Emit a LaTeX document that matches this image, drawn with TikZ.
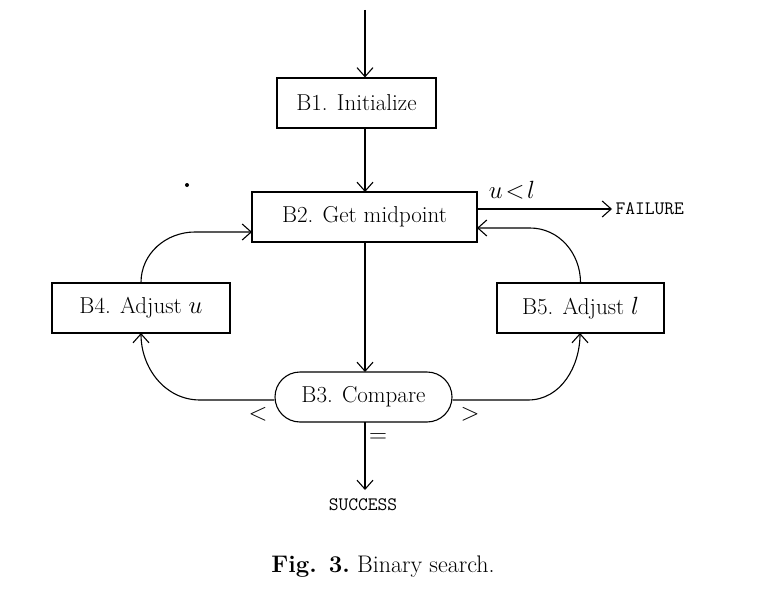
\documentclass[tikz,border=0pt]{standalone}
\usetikzlibrary{arrows.meta}
\begin{document}
\begin{tikzpicture}[x=1pt,y=-1pt,
  box/.style={draw,line width=1.1pt,minimum height=50pt,inner sep=0pt,font=\fontsize{23}{27}\selectfont},
  lbl/.style={font=\fontsize{23}{27}\selectfont},
  conn/.style={line width=1.1pt,-{Straight Barb[length=9pt,width=16pt]}},
  tt/.style={font=\fontsize{19}{22}\selectfont\ttfamily}]
\useasboundingbox (0,0) rectangle (766,610);
\coordinate (top) at (365,10);
\node[box,minimum width=159pt] (b1) at (356.5,103) {B1. Initialize};
\node[box,minimum width=225pt] (b2) at (364.5,217) {B2. Get midpoint};
\node[box,minimum width=178pt] (b4) at (141,308) {B4. Adjust $u$};
\node[box,minimum width=167pt] (b5) at (580.5,308) {B5. Adjust $l$};
\node[box,rounded corners=25pt,minimum width=177pt] (b3) at (363.5,397) {B3. Compare};
\node[tt,anchor=west] (fail) at (612,209) {FAILURE};
\node[tt] (succ) at (363,505) {SUCCESS};
\coordinate (sa) at (365,490);
\fill (187,185) circle (2pt);
\draw[conn] (top) -- (top|-b1.north);
\draw[conn] (365,128) -- (365,192);
\draw[conn] (365,242) -- (365,372);
\draw[conn] (477,209) -- (fail.west);
\node[lbl] (ul) at (512,190) {$u\!<\!l$};
\draw[conn] (b3.west) ++(0,3) -- (200,400) to[out=180,in=-90] (141,333);
\draw[conn] (b3.east) ++(0,3) -- (528,400) to[out=0,in=-90] (580,333);
\draw[conn] (b4.north) to[out=90,in=180] (195,232) -- (252,232);
\draw[conn] (b5.north) to[out=90,in=0] (530,228) -- (477,228);
\draw[conn] (365,422) -- (sa);
\node[lbl] (lt) at (258,414) {$<$};
\node[lbl] (gt) at (470,414) {$>$};
\node[lbl] (eq) at (378,438) {$=$};
\node[font=\fontsize{24}{28}\selectfont] (cap) at (383,567) {\textbf{Fig. 3.}\ Binary search.};
\end{tikzpicture}
\end{document}
